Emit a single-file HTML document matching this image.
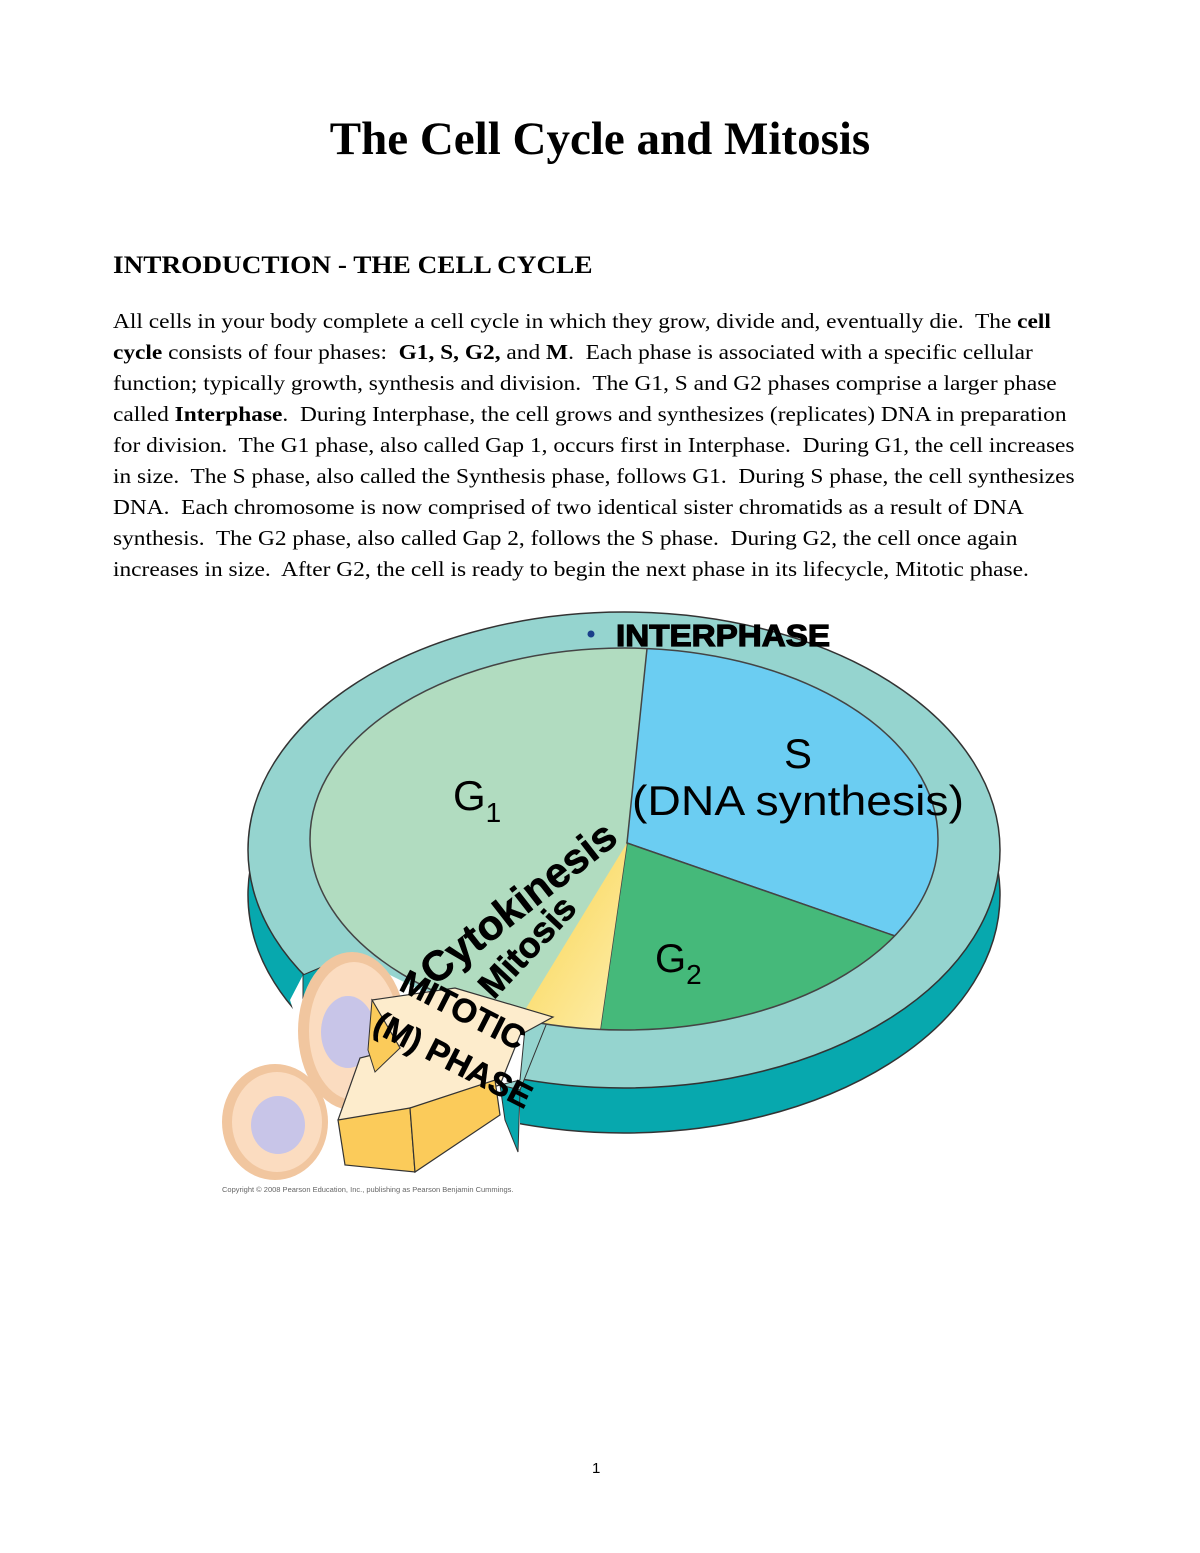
<!DOCTYPE html>
<html><head><meta charset="utf-8"><style>
html,body{margin:0;padding:0;background:#fff;}
body{width:1200px;height:1553px;position:relative;overflow:hidden;font-family:"Liberation Serif",serif;color:#000;}
.t{position:absolute;left:0;width:1200px;text-align:center;top:112px;font-size:47px;font-weight:bold;}
.h{position:absolute;left:113px;top:252px;font-size:25px;font-weight:bold;transform:scaleX(1.09);transform-origin:left top;}
.p{position:absolute;left:113px;top:307px;font-size:20.6px;line-height:31px;white-space:pre;transform:scaleX(1.135);transform-origin:left top;}
.pn{position:absolute;left:592px;top:1460px;font-size:15px;font-family:"Liberation Sans",sans-serif;}
svg{position:absolute;left:0;top:0;}
</style></head><body>
<div class="t">The Cell Cycle and Mitosis</div>
<div class="h">INTRODUCTION - THE CELL CYCLE</div>
<div class="p">All cells in your body complete a cell cycle in which they grow, divide and, eventually die.  The <b>cell</b>
<b>cycle</b> consists of four phases:  <b>G1, S, G2,</b> and <b>M</b>.  Each phase is associated with a specific cellular
function; typically growth, synthesis and division.  The G1, S and G2 phases comprise a larger phase
called <b>Interphase</b>.  During Interphase, the cell grows and synthesizes (replicates) DNA in preparation
for division.  The G1 phase, also called Gap 1, occurs first in Interphase.  During G1, the cell increases
in size.  The S phase, also called the Synthesis phase, follows G1.  During S phase, the cell synthesizes
DNA.  Each chromosome is now comprised of two identical sister chromatids as a result of DNA
synthesis.  The G2 phase, also called Gap 2, follows the S phase.  During G2, the cell once again
increases in size.  After G2, the cell is ready to begin the next phase in its lifecycle, Mitotic phase.</div>
<svg width="1200" height="1553" viewBox="0 0 1200 1553" font-family="Liberation Sans, sans-serif">
<defs>
<clipPath id="inner"><ellipse cx="624" cy="839" rx="314" ry="191"/></clipPath>
<linearGradient id="yg" x1="0" y1="0" x2="1" y2="1"><stop offset="0" stop-color="#fff7b0"/><stop offset="0.5" stop-color="#fbe07a"/><stop offset="1" stop-color="#fff3c0"/></linearGradient>
</defs>
<!-- side -->
<ellipse cx="624" cy="895" rx="376" ry="238" fill="#07a8ae" stroke="#333" stroke-width="1.5"/>
<!-- top ring -->
<ellipse cx="624" cy="850" rx="376" ry="238" fill="#95d4cf" stroke="#333" stroke-width="1.5"/>
<!-- gap cut -->
<polygon points="303,975 290,1000 303,1040 330,1080 360,1110 420,1165 520,1155 520,1090 550,1015 500,1000 420,990 350,955" fill="#fff"/>
<polygon points="303,975 350,955 350,995 303,1012" fill="#07a8ae" stroke="#333" stroke-width="1"/>
<polygon points="500,1085 520,1090 550,1015 525,1028 520,1080" fill="#95d4cf" stroke="#333" stroke-width="1"/>
<polygon points="500,1085 520,1090 518,1152 505,1120" fill="#07a8ae" stroke="#333" stroke-width="1"/>
<!-- inner pie -->
<g clip-path="url(#inner)" stroke="#444" stroke-width="1.5">
<rect x="300" y="640" width="650" height="400" fill="#b1dcc0" stroke="none"/>
<polygon points="627,843 652,600 1000,600 1000,960 895,936" fill="#6bcdf2"/>
<polygon points="627,843 895,936 1000,960 1000,1100 590,1100" fill="#45b97a"/>
<polygon points="627,843 590,1100 470,1100" fill="url(#yg)" stroke="none"/>
</g>
<ellipse cx="624" cy="839" rx="314" ry="191" fill="none" stroke="#444" stroke-width="1.5"/>
<!-- cells -->
<ellipse cx="352" cy="1031" rx="54" ry="79" fill="#f1c69f"/>
<ellipse cx="354" cy="1031" rx="45" ry="69" fill="#fbdcc0"/>
<ellipse cx="348" cy="1032" rx="27" ry="36" fill="#c8c5e8"/>
<ellipse cx="275" cy="1122" rx="53" ry="58" fill="#f1c69f"/>
<ellipse cx="277" cy="1122" rx="45" ry="50" fill="#fbdcc0"/>
<ellipse cx="278" cy="1125" rx="27" ry="29" fill="#c8c5e8"/>
<!-- arrow -->
<polygon points="372,1000 455,988 553,1017 520,1035 500,1085 420,1108 410,1170 338,1120 360,1058 400,1048" fill="#fdeccc" stroke="#333" stroke-width="1.2"/>
<polygon points="338,1120 410,1108 415,1172 345,1165" fill="#fbcb5a" stroke="#333" stroke-width="1.2"/>
<polygon points="410,1108 495,1080 500,1115 415,1172" fill="#fbcb5a" stroke="#333" stroke-width="1.2"/>
<polygon points="372,1000 400,1048 375,1072 368,1050" fill="#fbcb5a" stroke="#333" stroke-width="1"/>
<!-- labels -->
<circle cx="591" cy="634" r="3.5" fill="#1a3f8a"/>
<text x="616" y="646" font-size="31" font-weight="bold" stroke="#000" stroke-width="1.2" textLength="214" lengthAdjust="spacingAndGlyphs">INTERPHASE</text>
<text x="453" y="810" font-size="42">G<tspan font-size="28" dy="12">1</tspan></text>
<text x="798" y="768" font-size="42" text-anchor="middle">S</text>
<text x="798" y="815" font-size="42" text-anchor="middle" textLength="332" lengthAdjust="spacingAndGlyphs">(DNA synthesis)</text>
<text x="655" y="972" font-size="40">G<tspan font-size="28" dy="12">2</tspan></text>
<text transform="translate(527,914) rotate(-38)" font-size="42" font-weight="bold" text-anchor="middle" stroke="#000" stroke-width="0.6">Cytokinesis</text>
<text transform="translate(536,955) rotate(-47)" font-size="36" font-weight="bold" text-anchor="middle" stroke="#000" stroke-width="0.6">Mitosis</text>
<text transform="translate(458,1020) rotate(27)" font-size="33" font-weight="bold" text-anchor="middle" stroke="#000" stroke-width="0.6">MITOTIC</text>
<text transform="translate(448,1070) rotate(27)" font-size="33" font-weight="bold" text-anchor="middle" stroke="#000" stroke-width="0.6">(M) PHASE</text>
<text x="222" y="1192" font-size="7.5" fill="#666">Copyright © 2008 Pearson Education, Inc., publishing as Pearson Benjamin Cummings.</text>
</svg>
<div class="pn">1</div>
</body></html>
